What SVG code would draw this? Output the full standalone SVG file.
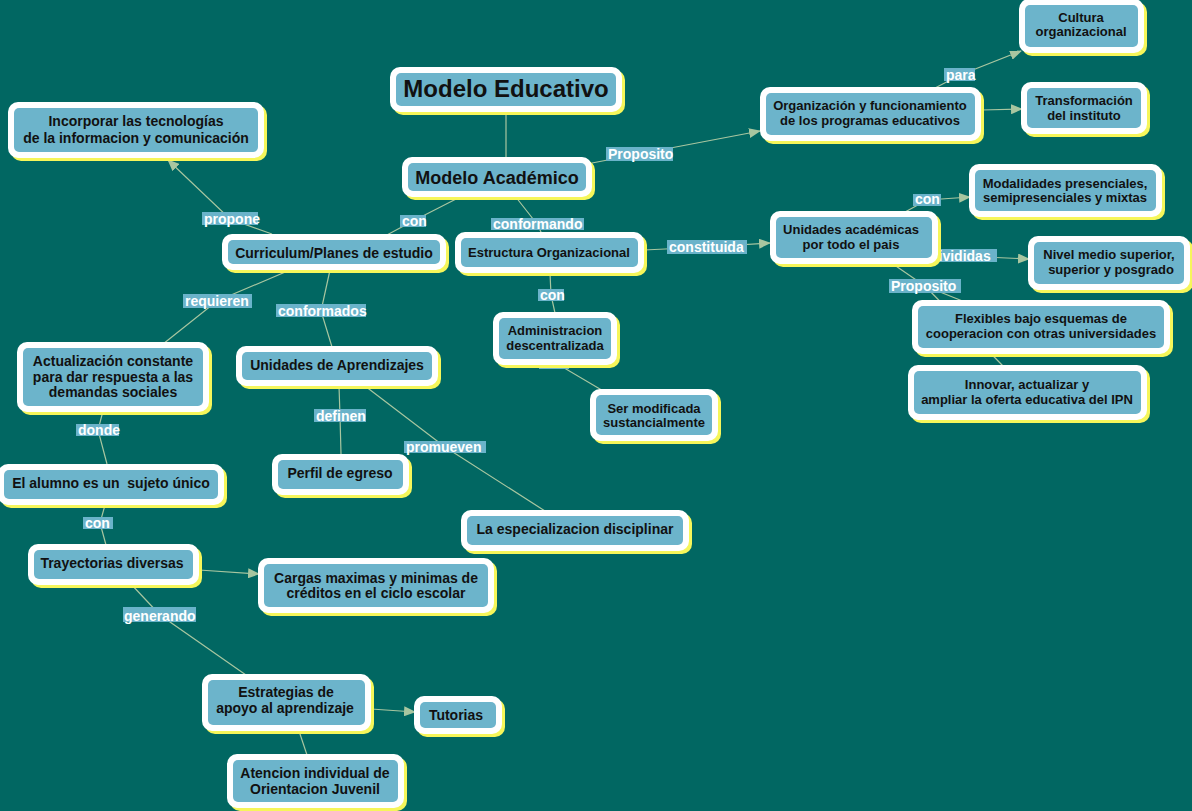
<svg xmlns="http://www.w3.org/2000/svg" width="1192" height="811" viewBox="0 0 1192 811">
<style>
.sh{fill:#f6f65a}
.bd{fill:#ffffff}
.in{fill:#6cb4cb}
.t{font-family:"Liberation Sans",Arial,sans-serif;font-weight:bold;font-size:14px;fill:#111;text-anchor:middle}
.s{font-size:13px}
.lk{fill:#6ab3ca}
.lt{font-family:"Liberation Sans",Arial,sans-serif;font-weight:bold;font-size:14px;fill:#ffffff}
.c{stroke:#a8c6a0;stroke-width:1.2;fill:none}
.a{marker-end:url(#ah)}
</style>
<defs>
<marker id="ah" markerWidth="12" markerHeight="10" refX="11" refY="5" orient="auto" markerUnits="userSpaceOnUse"><path d="M0,0 L12,5 L0,10 Z" fill="#a8c6a0"/></marker>
</defs>
<rect x="0" y="0" width="1192" height="811" fill="#016762"/>
<g id="connectors">
<polyline class="c" points="506,110 506,160"/>
<polyline class="c a" points="592,163 639,154 760,131"/>
<polyline class="c" points="460,197 413,221 385,236"/>
<polyline class="c" points="515,196 537,224 542,234"/>
<polyline class="c a" points="272,234 230,219 168,160"/>
<polyline class="c" points="290,270 217,301 163,344"/>
<polyline class="c" points="330,270 321,311 332,347"/>
<polyline class="c" points="550,273 551,295 555,313"/>
<polyline class="c" points="554,340 554,362 605,392"/>
<polyline class="c a" points="644,250 707,247 770,243"/>
<polyline class="c a" points="935,88 960,75 1021,51"/>
<polyline class="c a" points="981,110 1022,109"/>
<polyline class="c a" points="905,212 927,200 970,197"/>
<polyline class="c a" points="900,255 962,256 1029,259"/>
<polyline class="c" points="890,262 925,286"/>
<polyline class="c" points="925,286 965,302"/>
<polyline class="c" points="925,286 1003,366"/>
<polyline class="c" points="103,411 98,430 107,464"/>
<polyline class="c" points="105,505 100,523 106,545"/>
<polyline class="c a" points="199,570 259,574"/>
<polyline class="c" points="130,583 160,615 246,675"/>
<polyline class="c a" points="371,709 415,712"/>
<polyline class="c" points="299,731 307,755"/>
<polyline class="c" points="339,386 340,416 341,454"/>
<polyline class="c" points="365,386 445,447 545,511"/>
</g>
<g id="linking-phrases">
<g><rect class="lk" x="606" y="147" width="67" height="14"/><text class="lt" x="608" y="159">Proposito</text></g>
<g><rect class="lk" x="667" y="240" width="80" height="14"/><text class="lt" x="669" y="252">constituida</text></g>
<g><rect class="lk" x="400" y="215" width="26" height="12"/><text class="lt" x="402" y="226">con</text></g>
<g><rect class="lk" x="491" y="218" width="93" height="12"/><text class="lt" x="493" y="229">conformando</text></g>
<g><rect class="lk" x="202" y="212" width="56" height="13"/><text class="lt" x="204" y="224">propone</text></g>
<g><rect class="lk" x="183" y="294" width="69" height="14"/><text class="lt" x="185" y="306">requieren</text></g>
<g><rect class="lk" x="276" y="304" width="90" height="13"/><text class="lt" x="278" y="316">conformados</text></g>
<g><rect class="lk" x="538" y="289" width="26" height="12"/><text class="lt" x="540" y="300">con</text></g>
<g><rect class="lk" x="539" y="355" width="30" height="14"/></g>
<g><rect class="lk" x="944" y="68" width="31" height="13"/><text class="lt" x="946" y="80">para</text></g>
<g><rect class="lk" x="913" y="194" width="28" height="12"/><text class="lt" x="915" y="204">con</text></g>
<g><rect class="lk" x="928" y="249" width="69" height="13"/><text class="lt" x="930" y="261">divididas</text></g>
<g><rect class="lk" x="889" y="279" width="72" height="14"/><text class="lt" x="891" y="291">Proposito</text></g>
<g><rect class="lk" x="76" y="424" width="43" height="12"/><text class="lt" x="78" y="435">donde</text></g>
<g><rect class="lk" x="83" y="517" width="30" height="12"/><text class="lt" x="85" y="528">con</text></g>
<g><rect class="lk" x="314" y="409" width="52" height="13"/><text class="lt" x="316" y="421">definen</text></g>
<g><rect class="lk" x="404" y="441" width="82" height="12"/><text class="lt" x="406" y="452">promueven</text></g>
<g><rect class="lk" x="123" y="607" width="73" height="15"/><text class="lt" x="124" y="621">generando</text></g>
</g>
<g id="n-modelo-educativo"><rect class="sh" x="393" y="70" width="232" height="45" rx="10"/><rect class="bd" x="390" y="67" width="232" height="45" rx="10"/><rect class="in" x="396" y="73" width="220" height="33" rx="5"/><text class="t" x="506" y="97" style="font-size:24px">Modelo Educativo</text></g>
<g id="n-modelo-academico"><rect class="sh" x="405" y="160" width="190" height="40" rx="10"/><rect class="bd" x="402" y="157" width="190" height="40" rx="10"/><rect class="in" x="408" y="163" width="178" height="28" rx="5"/><text class="t" x="497" y="184" style="font-size:18px">Modelo Académico</text></g>
<g id="n-tic"><rect class="sh" x="11" y="105" width="256" height="56" rx="10"/><rect class="bd" x="8" y="102" width="256" height="56" rx="10"/><rect class="in" x="14" y="108" width="244" height="44" rx="5"/><text class="t" x="136" y="126">Incorporar las tecnologías</text><text class="t" x="136" y="143">de la informacion y comunicación</text></g>
<g id="n-curriculum"><rect class="sh" x="225" y="237" width="224" height="36" rx="10"/><rect class="bd" x="222" y="234" width="224" height="36" rx="10"/><rect class="in" x="228" y="240" width="212" height="24" rx="5"/><text class="t" x="334" y="258">Curriculum/Planes de estudio</text></g>
<g id="n-estructura"><rect class="sh" x="458" y="235" width="189" height="41" rx="10"/><rect class="bd" x="455" y="232" width="189" height="41" rx="10"/><rect class="in" x="461" y="238" width="177" height="29" rx="5"/><text class="t s" x="549" y="257">Estructura Organizacional</text></g>
<g id="n-organizacion"><rect class="sh" x="763" y="90" width="221" height="54" rx="10"/><rect class="bd" x="760" y="87" width="221" height="54" rx="10"/><rect class="in" x="766" y="93" width="209" height="42" rx="5"/><text class="t s" x="870" y="110">Organización y funcionamiento</text><text class="t s" x="870" y="125">de los programas educativos</text></g>
<g id="n-cultura"><rect class="sh" x="1022" y="2" width="125" height="54" rx="10"/><rect class="bd" x="1019" y="-1" width="125" height="54" rx="10"/><rect class="in" x="1025" y="5" width="113" height="42" rx="5"/><text class="t s" x="1081" y="22">Cultura</text><text class="t s" x="1081" y="36">organizacional</text></g>
<g id="n-transformacion"><rect class="sh" x="1024" y="85" width="126" height="52" rx="10"/><rect class="bd" x="1021" y="82" width="126" height="52" rx="10"/><rect class="in" x="1027" y="88" width="114" height="40" rx="5"/><text class="t s" x="1084" y="105">Transformación</text><text class="t s" x="1084" y="120">del instituto</text></g>
<g id="n-modalidades"><rect class="sh" x="972" y="167" width="193" height="53" rx="10"/><rect class="bd" x="969" y="164" width="193" height="53" rx="10"/><rect class="in" x="975" y="170" width="181" height="41" rx="5"/><text class="t s" x="1065" y="188">Modalidades presenciales,</text><text class="t s" x="1065" y="202">semipresenciales y mixtas</text></g>
<g id="n-unidades-academicas"><rect class="sh" x="773" y="214" width="168" height="53" rx="10"/><rect class="bd" x="770" y="211" width="168" height="53" rx="10"/><rect class="in" x="776" y="217" width="156" height="41" rx="5"/><text class="t s" x="851" y="234">Unidades académicas</text><text class="t s" x="851" y="249">por todo el pais</text></g>
<g id="n-nivel"><rect class="sh" x="1031" y="239" width="162" height="54" rx="10"/><rect class="bd" x="1028" y="236" width="162" height="54" rx="10"/><rect class="in" x="1034" y="242" width="150" height="42" rx="5"/><text class="t s" x="1109" y="259">Nivel medio superior,</text><text class="t s" x="1111" y="274">superior y posgrado</text></g>
<g id="n-flexibles"><rect class="sh" x="915" y="303" width="258" height="54" rx="10"/><rect class="bd" x="912" y="300" width="258" height="54" rx="10"/><rect class="in" x="918" y="306" width="246" height="42" rx="5"/><text class="t s" x="1041" y="323">Flexibles bajo esquemas de</text><text class="t s" x="1041" y="338">cooperacion con otras universidades</text></g>
<g id="n-innovar"><rect class="sh" x="911" y="368" width="239" height="55" rx="10"/><rect class="bd" x="908" y="365" width="239" height="55" rx="10"/><rect class="in" x="914" y="371" width="227" height="43" rx="5"/><text class="t s" x="1027" y="389">Innovar, actualizar y</text><text class="t s" x="1027" y="404">ampliar la oferta educativa del IPN</text></g>
<g id="n-administracion"><rect class="sh" x="496" y="315" width="124" height="53" rx="10"/><rect class="bd" x="493" y="312" width="124" height="53" rx="10"/><rect class="in" x="499" y="318" width="112" height="41" rx="5"/><text class="t s" x="555" y="335">Administracion</text><text class="t s" x="555" y="350">descentralizada</text></g>
<g id="n-ser-modificada"><rect class="sh" x="593" y="392" width="128" height="52" rx="10"/><rect class="bd" x="590" y="389" width="128" height="52" rx="10"/><rect class="in" x="596" y="395" width="116" height="40" rx="5"/><text class="t s" x="654" y="413">Ser modificada</text><text class="t s" x="654" y="427">sustancialmente</text></g>
<g id="n-actualizacion"><rect class="sh" x="20" y="345" width="192" height="70" rx="10"/><rect class="bd" x="17" y="342" width="192" height="70" rx="10"/><rect class="in" x="23" y="348" width="180" height="58" rx="5"/><text class="t" x="113" y="366">Actualización constante</text><text class="t" x="113" y="382">para dar respuesta a las</text><text class="t" x="113" y="397">demandas sociales</text></g>
<g id="n-unidades-aprendizajes"><rect class="sh" x="239" y="349" width="202" height="40" rx="10"/><rect class="bd" x="236" y="346" width="202" height="40" rx="10"/><rect class="in" x="242" y="352" width="190" height="28" rx="5"/><text class="t" x="337" y="370">Unidades de Aprendizajes</text></g>
<g id="n-perfil"><rect class="sh" x="275" y="457" width="137" height="41" rx="10"/><rect class="bd" x="272" y="454" width="137" height="41" rx="10"/><rect class="in" x="278" y="460" width="125" height="29" rx="5"/><text class="t" x="340" y="478">Perfil de egreso</text></g>
<g id="n-especializacion"><rect class="sh" x="464" y="513" width="228" height="41" rx="10"/><rect class="bd" x="461" y="510" width="228" height="41" rx="10"/><rect class="in" x="467" y="516" width="216" height="29" rx="5"/><text class="t" x="575" y="534">La especializacion disciplinar</text></g>
<g id="n-alumno"><rect class="sh" x="1" y="467" width="226" height="41" rx="10"/><rect class="bd" x="-2" y="464" width="226" height="41" rx="10"/><rect class="in" x="4" y="470" width="214" height="29" rx="5"/><text class="t" x="111" y="488" xml:space="preserve">El alumno es un  sujeto único</text></g>
<g id="n-trayectorias"><rect class="sh" x="31" y="547" width="171" height="41" rx="10"/><rect class="bd" x="28" y="544" width="171" height="41" rx="10"/><rect class="in" x="34" y="550" width="159" height="29" rx="5"/><text class="t" x="112" y="568">Trayectorias diversas</text></g>
<g id="n-cargas"><rect class="sh" x="261" y="561" width="236" height="55" rx="10"/><rect class="bd" x="258" y="558" width="236" height="55" rx="10"/><rect class="in" x="264" y="564" width="224" height="43" rx="5"/><text class="t" x="376" y="583">Cargas maximas y minimas de</text><text class="t" x="376" y="598">créditos en el ciclo escolar</text></g>
<g id="n-estrategias"><rect class="sh" x="205" y="677" width="169" height="57" rx="10"/><rect class="bd" x="202" y="674" width="169" height="57" rx="10"/><rect class="in" x="208" y="680" width="157" height="45" rx="5"/><text class="t" x="286" y="697">Estrategias de</text><text class="t" x="285" y="713">apoyo al aprendizaje</text></g>
<g id="n-tutorias"><rect class="sh" x="417" y="699" width="88" height="38" rx="10"/><rect class="bd" x="414" y="696" width="88" height="38" rx="10"/><rect class="in" x="420" y="702" width="76" height="26" rx="5"/><text class="t" x="456" y="720">Tutorias</text></g>
<g id="n-atencion"><rect class="sh" x="230" y="757" width="177" height="54" rx="10"/><rect class="bd" x="227" y="754" width="177" height="54" rx="10"/><rect class="in" x="233" y="760" width="165" height="42" rx="5"/><text class="t" x="315" y="778">Atencion individual de</text><text class="t" x="315" y="794">Orientacion Juvenil</text></g>
</svg>
